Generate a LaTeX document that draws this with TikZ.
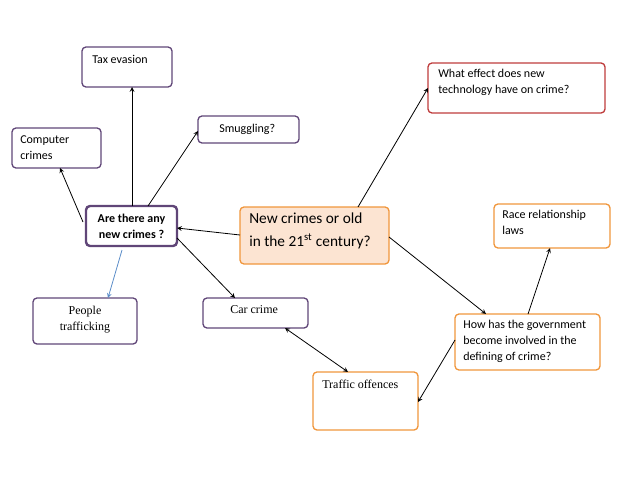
\documentclass[tikz,border=0pt]{standalone}
\usepackage{fontspec}
\setmainfont{Carlito}
\newfontfamily\serifx{Liberation Serif}
\begin{document}
\begin{tikzpicture}[x=0.75pt,y=-0.75pt,
  box/.style={draw=purp,line width=1pt,rounded corners=3pt,inner sep=0pt},
  lbl/.style={anchor=north west,align=left,font=\fontsize{9}{12}\selectfont,inner sep=0pt},
  arr/.style={-stealth,line width=0.6pt}]
\definecolor{purp}{RGB}{96,70,120}
\definecolor{orng}{RGB}{240,150,60}
\definecolor{redb}{RGB}{190,60,60}
\definecolor{peach}{RGB}{252,228,210}
\definecolor{bluea}{RGB}{90,140,200}
\useasboundingbox (0,0) rectangle (638,478);
% boxes
\draw[box] (82,47) rectangle (172,87); \node[lbl] (tax) at (92,55) {Tax evasion};
\coordinate (taxb) at (132,87);
\draw[box] (12,128) rectangle (101,168); \node[lbl] at (20,135) {Computer\\crimes};
\coordinate (compb) at (60,168);
\draw[box] (198,116) rectangle (299,143); \node[lbl] at (219,124) {Smuggling?};
\coordinate (smug) at (198,131);
\draw[box,line width=1.8pt] (86,206) rectangle (177,246);
\node[lbl,anchor=center,align=center,font=\bfseries\fontsize{9}{12}\selectfont] (are) at (131.5,226) {Are there any\\new crimes ?};
\draw[box,draw=orng,fill=peach] (240,207) rectangle (389,264);
\node[lbl,font=\fontsize{11.5}{17}\selectfont] (cen) at (249,213) {New crimes or old\\in the 21\textsuperscript{st} century?};
\draw[box,draw=redb] (428,63) rectangle (605,113); \node[lbl] at (438,69) {What effect does new\\technology have on crime?};
\draw[box,draw=orng] (494,204) rectangle (610,248); \node[lbl] at (502,210) {Race relationship\\laws};
\draw[box] (33,298) rectangle (137,344); \node[lbl,anchor=center,align=center,font=\serifx\fontsize{9}{12}\selectfont] at (85,320) {People\\trafficking};
\draw[box] (203,298) rectangle (308,328); \node[lbl,font=\serifx\fontsize{9}{12}\selectfont] at (230,305) {Car crime};
\draw[box,draw=orng] (455,314) rectangle (600,370); \node[lbl] at (463,320) {How has the government\\become involved in the\\defining of crime?};
\draw[box,draw=orng] (313,372) rectangle (418,430); \node[lbl,font=\serifx\fontsize{9}{12}\selectfont] at (322,380) {Traffic offences};
% arrows
\draw[arr] (132,206) -- (taxb);
\draw[arr] (83,222) -- (compb);
\draw[arr] (148,206) -- (smug);
\draw[arr] (240,235) -- (177,228);
\draw[arr] (177,238) -- (235,298);
\draw[arr,draw=bluea] (122,250) -- (108,298);
\draw[arr] (358,207) -- (428,88);
\draw[arr] (389,237) -- (486,314);
\draw[arr] (528,314) -- (550,248);
\draw[arr] (455,340) -- (418,402);
\draw[stealth-stealth,line width=0.6pt] (285,328) -- (348,372);
\end{tikzpicture}
\end{document}
